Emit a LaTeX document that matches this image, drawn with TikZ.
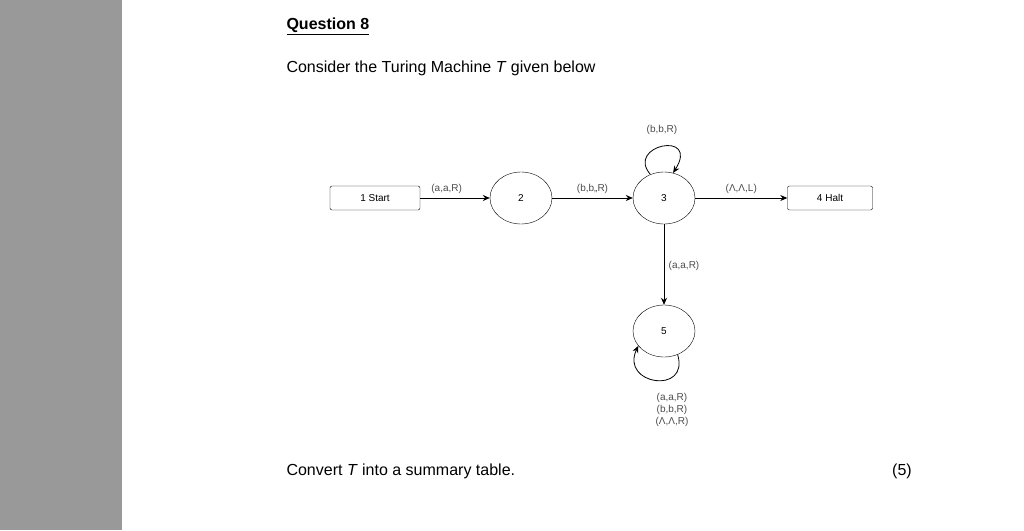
\documentclass[tikz,border=0pt]{standalone}
\usepackage{fontspec}
\setmainfont{Liberation Sans}
\usetikzlibrary{shapes.geometric,arrows.meta}
\begin{document}
\begin{tikzpicture}[x=1pt,y=-1pt,
  st/.style={draw,ellipse,minimum width=62pt,minimum height=52pt,inner sep=0pt,font=\fontsize{10}{12}\selectfont},
  bx/.style={draw,rounded corners=2pt,minimum width=90pt,minimum height=24pt,inner sep=0pt,font=\fontsize{10}{12}\selectfont},
  lb/.style={font=\fontsize{10}{12}\selectfont,text=black!70},
  ar/.style={-{Stealth[length=7pt,width=6pt]},line width=0.8pt},
  tx/.style={anchor=west,font=\fontsize{16}{19}\selectfont}]
\useasboundingbox (0,0) rectangle (1024,530);
\fill[white] (0,0) rectangle (1024,530);
\fill[black!40] (0,0) rectangle (122,530);
\node[tx,font=\bfseries\fontsize{16}{19}\selectfont] (title) at (283,26) {\underline{Question 8}};
\node[tx] (cons) at (283,68) {Consider the Turing Machine \textit{T} given below};
\node[tx] (conv) at (283,471) {Convert \textit{T} into a summary table.};
\node[font=\fontsize{16}{19}\selectfont] (mk) at (902,471) {(5)};
\node[bx] (s1) at (375,198) {1 Start};
\node[st] (s2) at (521,198) {2};
\node[st] (s3) at (664,198) {3};
\node[bx,minimum width=85pt] (s4) at (830,198) {4 Halt};
\node[st] (s5) at (664,331) {5};
\draw[ar] (s1) -- node[lb,above,pos=0.38,yshift=1pt]{(a,a,R)} (s2);
\draw[ar] (s2) -- node[lb,above,pos=0.5,yshift=1pt]{(b,b,,R)} (s3);
\draw[ar] (s3) -- node[lb,above,pos=0.5,yshift=1pt]{(Λ,Λ,L)} (s4);
\draw[ar] (s3) -- node[lb,right,pos=0.5,xshift=1pt,yshift=-1pt]{(a,a,R)} (s5);
\draw[ar] (s3.120) .. controls (625,145) and (700,130) .. (s3.70);
\node[lb] (l3) at (662,130) {(b,b,R)};
\draw[ar] (s5.-60) .. controls (690,395) and (620,385) .. (s5.-150);
\node[lb,align=center,font=\fontsize{10}{12}\selectfont] (l5) at (672,410) {(a,a,R)\\(b,b,R)\\(Λ,Λ,R)};
\end{tikzpicture}
\end{document}
